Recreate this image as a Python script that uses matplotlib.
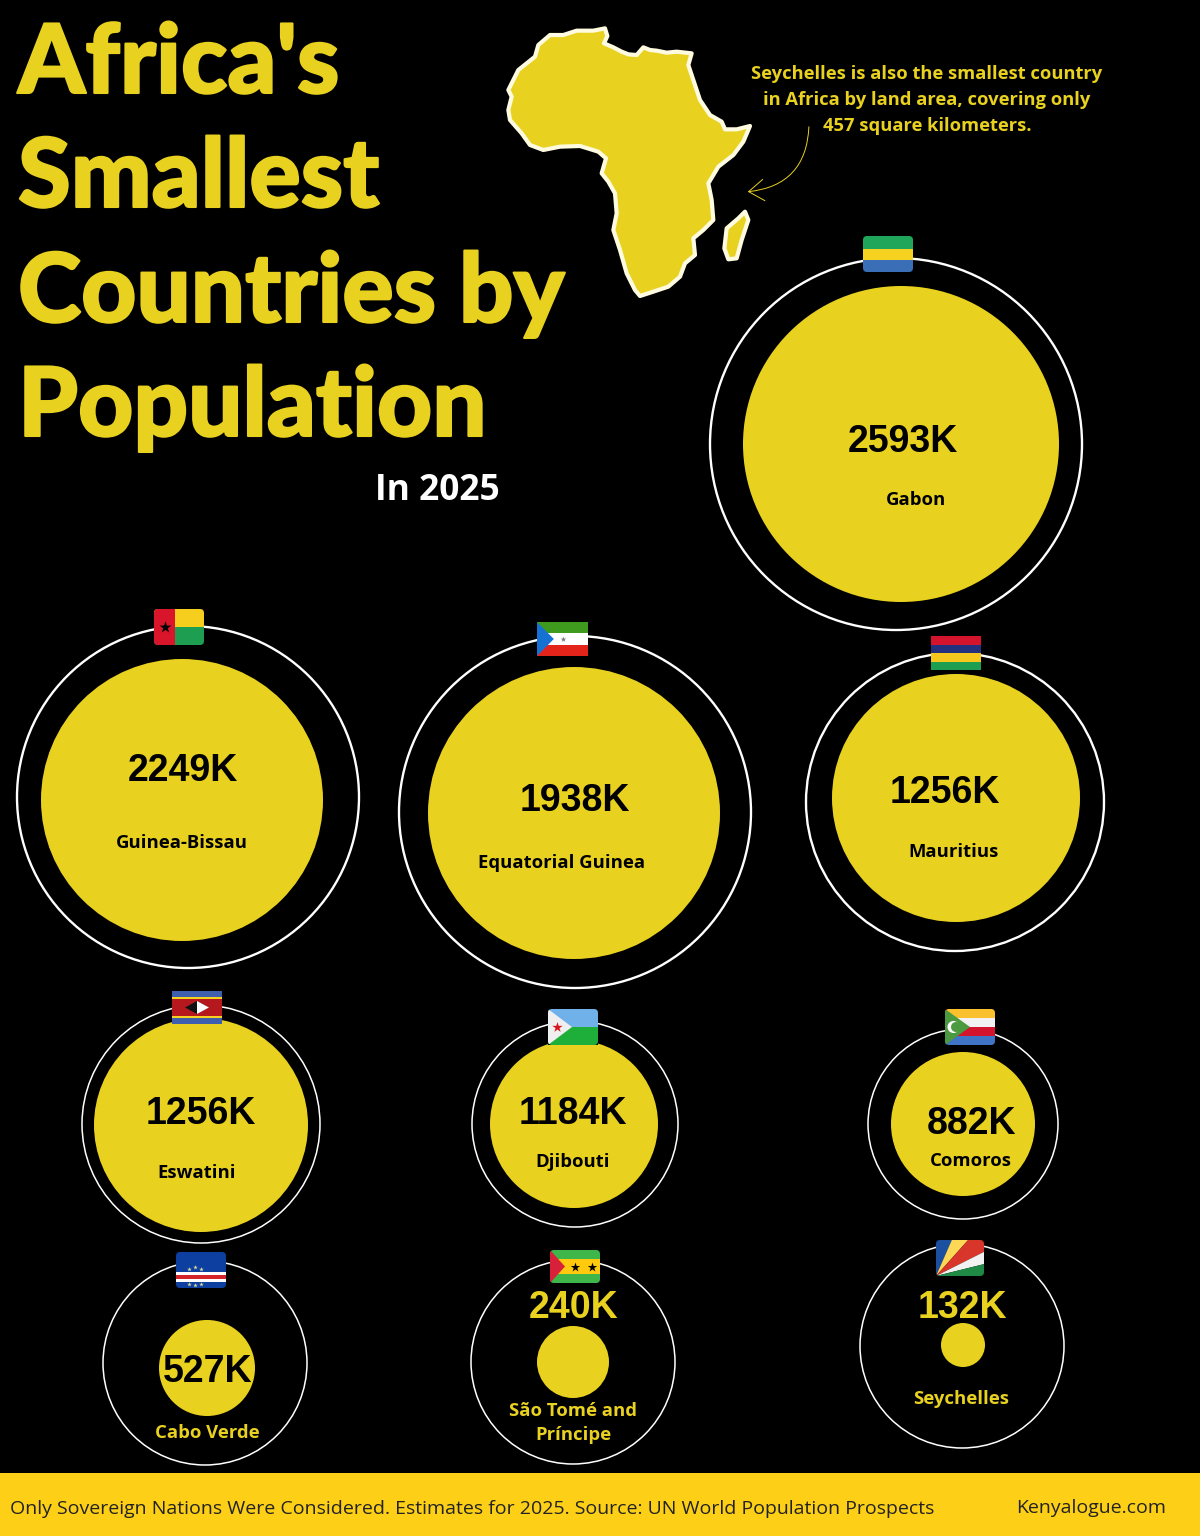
import matplotlib
matplotlib.use("Agg")
import matplotlib.pyplot as plt
import matplotlib.patheffects as pe
from matplotlib.patches import Circle, FancyBboxPatch, Polygon, Rectangle, FancyArrowPatch

YELLOW = "#E9D120"
TITLE_FONT = "Lato"
NUM_FONT = "Liberation Sans"
LABEL_FONT = "Open Sans"

# chart data
countries = ["Gabon", "Guinea-Bissau", "Equatorial Guinea", "Mauritius", "Eswatini",
             "Djibouti", "Comoros", "Cabo Verde", "São Tomé and\nPríncipe", "Seychelles"]
population_k = [2593, 2249, 1938, 1256, 1256, 1184, 882, 527, 240, 132]

# layout, in reference pixels
outer_circles = [(896, 444, 186), (188, 797, 171), (575, 812, 176), (955, 802, 149), (201, 1124, 119),
                 (575, 1124, 103), (963, 1124, 95), (205, 1363, 102), (573, 1362, 102), (962, 1346, 102)]
inner_circles = [(901, 444, 158), (182, 800, 141), (574, 813, 146), (956, 798, 124), (201, 1125, 107),
                 (574, 1124, 84), (963, 1124, 72), (207, 1368, 48), (573, 1362, 36), (963, 1345, 22)]
number_pos = [(903, 442), (183, 771), (575, 801), (945, 793), (201, 1114),
              (573, 1114), (971, 1124), (208, 1372), (574, 1308), (962, 1308)]
name_pos = [(916, 500), (182, 843), (562, 863), (954, 852), (197, 1173),
            (573, 1162), (971, 1161), (207, 1433), (573, 1423), (961, 1399)]
number_colors = ["black"] * 8 + [YELLOW] * 2
name_colors = ["black"] * 7 + [YELLOW] * 3
flag_boxes = [(863, 236, 50, 36), (154, 609, 50, 36), (537, 622, 51, 34), (931, 636, 50, 34), (172, 991, 50, 33),
              (548, 1009, 50, 36), (945, 1009, 50, 36), (176, 1252, 50, 36), (550, 1250, 50, 33), (936, 1240, 48, 36)]

africa = [(375, 55), (382, 78), (372, 100), (400, 112), (425, 125), (445, 133), (470, 135), (490, 112), (510, 120),
          (530, 122), (560, 128), (590, 125), (635, 130), (625, 165), (635, 195), (645, 225), (660, 270), (690, 315),
          (725, 335), (735, 358), (770, 358), (810, 348), (790, 395), (760, 435), (715, 470), (685, 520), (695, 570),
          (700, 630), (670, 660), (640, 685), (645, 735), (615, 760), (600, 800), (565, 830), (520, 845), (480, 858),
          (465, 840), (440, 790), (420, 720), (400, 660), (410, 610), (405, 550), (385, 515), (365, 490), (378, 445),
          (355, 425), (300, 408), (240, 410), (190, 420), (150, 405), (125, 370), (90, 330), (85, 300), (95, 260),
          (85, 240), (115, 180), (165, 140), (175, 105), (210, 75), (250, 75), (290, 62), (340, 62)]
madagascar = [(795, 605), (805, 630), (785, 690), (770, 745), (745, 748), (733, 715), (740, 655), (775, 625)]


def draw_flag(ax, box, parts, rounded=True):
    # parts are (colour, polygon in 0-1 flag coordinates)
    x, y, w, h = box
    pad = 4 if rounded else 0.01
    clip = FancyBboxPatch((x + pad, y + pad), w - 2 * pad, h - 2 * pad,
                          boxstyle=f"round,pad={pad},rounding_size={pad}",
                          fc="none", ec="none", transform=ax.transData, zorder=5)
    ax.add_patch(clip)
    for color, pts in parts:
        poly = Polygon([(x + u * w, y + v * h) for u, v in pts], closed=True, fc=color, ec="none", zorder=5)
        ax.add_patch(poly)
        poly.set_clip_path(clip)


def bar(v0, v1, u0=0, u1=1):
    return [(u0, v0), (u1, v0), (u1, v1), (u0, v1)]


def stars(ax, box, points, color, size):
    x, y, w, h = box
    ax.scatter([x + u * w for u, v in points], [y + v * h for u, v in points],
               marker="*", s=size, c=color, linewidths=0, zorder=6)


fig = plt.figure(figsize=(12, 15.36), dpi=100, facecolor="black")
ax = fig.add_axes([0, 0, 1, 1])
ax.set_xlim(0, 1200)
ax.set_ylim(1536, 0)
ax.axis("off")

# title block
for line, base in zip(["Africa's", "Smallest", "Countries by", "Population"], [93, 207, 322, 436]):
    ax.text(18, base, line, color=YELLOW, fontsize=69, family=TITLE_FONT, weight="black", va="baseline", ha="left",
            path_effects=[pe.withStroke(linewidth=1.5, foreground=YELLOW)])
ax.text(437, 491, "In 2025", color="white", fontsize=25.5, family=LABEL_FONT, weight="bold", ha="center", va="center")

# map
for shape in [africa, madagascar]:
    ax.add_patch(Polygon([(480 + a / 3, 10 + b / 3) for a, b in shape], closed=True,
                         fc=YELLOW, ec="#FFFBE0", lw=3, joinstyle="round"))

ax.text(927, 100, "Seychelles is also the smallest country\nin Africa by land area, covering only\n457 square kilometers.",
        color=YELLOW, fontsize=13.2, family=LABEL_FONT, weight="bold", ha="center", va="center", linespacing=1.57)
ax.add_patch(FancyArrowPatch((809, 124), (745, 192), connectionstyle="arc3,rad=-0.45",
                             arrowstyle="->,head_length=5,head_width=3.5",
                             color=YELLOW, lw=0.7, mutation_scale=2.2))

# circles and labels
for i, name in enumerate(countries):
    ox, oy, orad = outer_circles[i]
    ix, iy, irad = inner_circles[i]
    lw = 1.7 if orad > 140 else 1.1
    ax.add_patch(Circle((ox, oy), orad, fc="none", ec="white", lw=lw, zorder=2))
    ax.add_patch(Circle((ix, iy), irad, fc=YELLOW, ec="none", zorder=3))
    ax.text(*number_pos[i], f"{population_k[i]}K", color=number_colors[i], fontsize=27, family=NUM_FONT,
            weight="bold", ha="center", va="center", zorder=7)
    ax.text(*name_pos[i], name, color=name_colors[i], fontsize=13.3, family=LABEL_FONT, weight="bold",
            ha="center", va="center", zorder=7, linespacing=1.42)

# flags: a black gap behind each one breaks the ring
for box in flag_boxes:
    ax.add_patch(Rectangle(box[:2], box[2], box[3], fc="black", ec="none", zorder=4))

draw_flag(ax, flag_boxes[0], [("#1FA65A", bar(0, 0.36)), ("#F5D21F", bar(0.36, 0.66)), ("#3A6FB8", bar(0.66, 1))])

draw_flag(ax, flag_boxes[1], [("#F6CE1E", bar(0, 0.5)), ("#1E9E50", bar(0.5, 1)), ("#D9152C", bar(0, 1, 0, 0.42))])
stars(ax, flag_boxes[1], [(0.21, 0.5)], "black", 80)

draw_flag(ax, flag_boxes[2], [("#3E9B1E", bar(0, 0.33)), ("white", bar(0.33, 0.67)), ("#E3241B", bar(0.67, 1)),
                              ("#1572D3", [(0, 0), (0.33, 0.5), (0, 1)])], rounded=False)
stars(ax, flag_boxes[2], [(0.51, 0.5)], "#777777", 18)

draw_flag(ax, flag_boxes[3], [("#D3142C", bar(0, 0.25)), ("#23307E", bar(0.25, 0.5)), ("#F6C81E", bar(0.5, 0.75)),
                              ("#1E9E50", bar(0.75, 1))], rounded=False)

draw_flag(ax, flag_boxes[4], [("#3E5EAE", bar(0, 1)), ("#F5D21F", bar(0.18, 0.82)), ("#B5191E", bar(0.24, 0.76))],
          rounded=False)
ax.add_patch(Polygon([(185, 1007.5), (197, 1001), (209, 1007.5), (197, 1014)], closed=True, fc="#111111", zorder=6))
ax.add_patch(Polygon([(197, 1001), (209, 1007.5), (197, 1014)], closed=True, fc="white", zorder=6))

draw_flag(ax, flag_boxes[5], [("#6FB1E8", bar(0, 0.5)), ("#1DAF3A", bar(0.5, 1)),
                              ("#EFEFEF", [(0, 0), (0.48, 0.5), (0, 1)])])
stars(ax, flag_boxes[5], [(0.17, 0.5)], "#D7141A", 60)

draw_flag(ax, flag_boxes[6], [("#FBC02D", bar(0, 0.25)), ("#F2F2F2", bar(0.25, 0.5)), ("#D3142C", bar(0.5, 0.75)),
                              ("#3F74C6", bar(0.75, 1)), ("#4C9A3F", [(0, 0), (0.5, 0.5), (0, 1)])])
ax.add_patch(Circle((953.5, 1027), 6, fc="white", ec="none", zorder=6))
ax.add_patch(Circle((956, 1027), 5, fc="#4C9A3F", ec="none", zorder=6))

draw_flag(ax, flag_boxes[7], [("#0C3FA0", bar(0, 1)), ("white", bar(0.56, 0.82)), ("#D3242C", bar(0.64, 0.75))])
stars(ax, flag_boxes[7], [(0.26, 0.46), (0.38, 0.42), (0.5, 0.46), (0.26, 0.88), (0.38, 0.92), (0.5, 0.88)],
      "#D8D8A0", 12)

draw_flag(ax, flag_boxes[8], [("#3EB649", bar(0, 0.27)), ("#FFC90E", bar(0.27, 0.72)), ("#3EB649", bar(0.72, 1)),
                              ("#D8203A", [(0, 0), (0.3, 0.5), (0, 1)])])
stars(ax, flag_boxes[8], [(0.49, 0.5), (0.84, 0.5)], "black", 50)

draw_flag(ax, flag_boxes[9], [("#1B4FA0", [(0, 1), (0, 0), (0.33, 0)]), ("#FCD856", [(0, 1), (0.33, 0), (0.67, 0)]),
                              ("#D8362A", [(0, 1), (0.67, 0), (1, 0), (1, 0.33)]),
                              ("#F2F2F2", [(0, 1), (1, 0.33), (1, 0.67)]),
                              ("#1E8A46", [(0, 1), (1, 0.67), (1, 1)])])

# footer band
ax.add_patch(Rectangle((0, 1473), 1200, 63, fc="#FDD017", ec="none", zorder=1))
ax.text(10, 1509, "Only Sovereign Nations Were Considered. Estimates for 2025. Source: UN World Population Prospects",
        color="#222222", fontsize=14, family=LABEL_FONT, ha="left", va="center")
ax.text(1166, 1508, "Kenyalogue.com", color="#222222", fontsize=14, family=LABEL_FONT, ha="right", va="center")

fig.savefig("out.png", dpi=100, facecolor="black")
